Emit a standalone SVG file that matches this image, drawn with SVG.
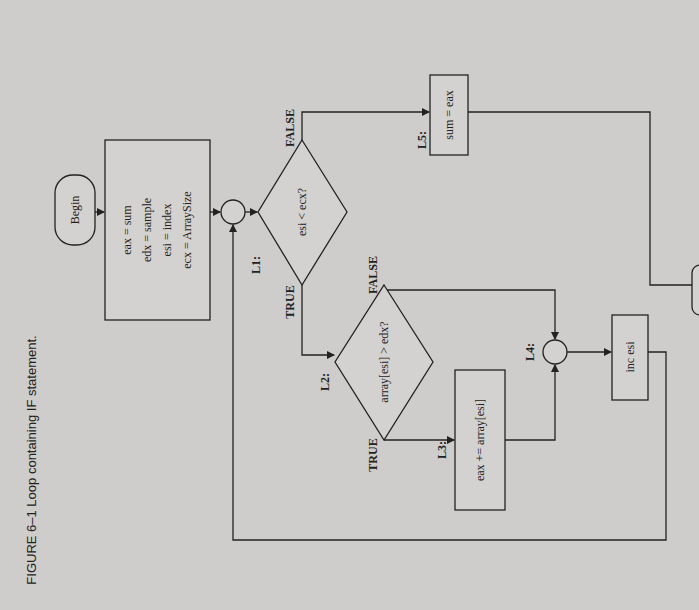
<svg xmlns="http://www.w3.org/2000/svg" width="699" height="610" viewBox="0 0 699 610">
<defs>
<marker id="a" markerWidth="8" markerHeight="8" refX="7" refY="4" orient="auto" markerUnits="userSpaceOnUse"><path d="M0,0 L8,4 L0,8 z" fill="#222"/></marker>
<style>
.s{fill:none;stroke:#222;stroke-width:1.3}
.b{fill:#d4d2d0;stroke:#222;stroke-width:1.3}
.t{font-family:"Liberation Serif",serif;font-size:12px;fill:#222;text-anchor:middle;dominant-baseline:central}
.l{font-family:"Liberation Serif",serif;font-size:12px;font-weight:bold;fill:#222;text-anchor:middle;dominant-baseline:central}
</style>
</defs>
<rect width="699" height="610" fill="#cfcdcb"/>
<text transform="translate(36,460) rotate(-90)" style="font-family:'Liberation Sans',sans-serif;font-size:13px;fill:#222" text-anchor="middle">FIGURE 6–1   Loop containing IF statement.</text>
<g id="connectors">
<path class="s" d="M95,212 H104" marker-end="url(#a)"/>
<path class="s" d="M210,212 H220" marker-end="url(#a)"/>
<path class="s" d="M245,212 H257" marker-end="url(#a)"/>
<path class="s" d="M302,140 V112 H429" marker-end="url(#a)"/>
<path class="s" d="M468,112 H650 V285 H699"/>
<path class="s" d="M302,285 V355 H334" marker-end="url(#a)"/>
<path class="s" d="M384,285 V290 H555 V339" marker-end="url(#a)"/>
<path class="s" d="M384,440 H454" marker-end="url(#a)"/>
<path class="s" d="M505,440 H555 V365" marker-end="url(#a)"/>
<path class="s" d="M567,352 H611" marker-end="url(#a)"/>
<path class="s" d="M648,352 H666 V540 H233 V225" marker-end="url(#a)"/>
</g>
<g id="begin"><rect class="b" x="55" y="175" width="40" height="70" rx="18"/><text class="t" transform="translate(75,210) rotate(-90)">Begin</text></g>
<g id="init"><rect class="b" x="105" y="140" width="105" height="180"/>
<text class="t" transform="translate(127,230) rotate(-90)">eax = sum</text>
<text class="t" transform="translate(147,230) rotate(-90)">edx = sample</text>
<text class="t" transform="translate(167,230) rotate(-90)">esi = index</text>
<text class="t" transform="translate(187,230) rotate(-90)">ecx = ArraySize</text></g>
<g id="j1"><circle class="b" cx="233" cy="212" r="12"/></g>
<g id="L1"><path class="b" d="M302,140 L347,212 L302,285 L258,212 z"/><text class="t" transform="translate(302,212) rotate(-90)">esi &lt; ecx?</text>
<text class="l" transform="translate(256,265) rotate(-90)">L1:</text>
<text class="l" transform="translate(290,128) rotate(-90)">FALSE</text>
<text class="l" transform="translate(290,302) rotate(-90)">TRUE</text></g>
<g id="L5"><rect class="b" x="430" y="75" width="38" height="80"/><text class="t" transform="translate(449,115) rotate(-90)">sum = eax</text><text class="l" transform="translate(422,140) rotate(-90)">L5:</text></g>
<g id="L2"><path class="b" d="M384,285 L433,362 L384,440 L335,362 z"/><text class="t" transform="translate(384,362) rotate(-90)">array[esi] &gt; edx?</text>
<text class="l" transform="translate(325,382) rotate(-90)">L2:</text>
<text class="l" transform="translate(373,275) rotate(-90)">FALSE</text>
<text class="l" transform="translate(373,455) rotate(-90)">TRUE</text></g>
<g id="L3"><rect class="b" x="455" y="370" width="50" height="140"/><text class="t" transform="translate(480,440) rotate(-90)">eax += array[esi]</text><text class="l" transform="translate(442,450) rotate(-90)">L3:</text></g>
<g id="L4"><circle class="b" cx="555" cy="352" r="12"/><text class="l" transform="translate(530,352) rotate(-90)">L4:</text></g>
<g id="inc"><rect class="b" x="612" y="315" width="36" height="85"/><text class="t" transform="translate(630,357) rotate(-90)">inc esi</text></g>
<g id="next"><rect class="b" x="692" y="265" width="20" height="50" rx="8"/></g>
</svg>
